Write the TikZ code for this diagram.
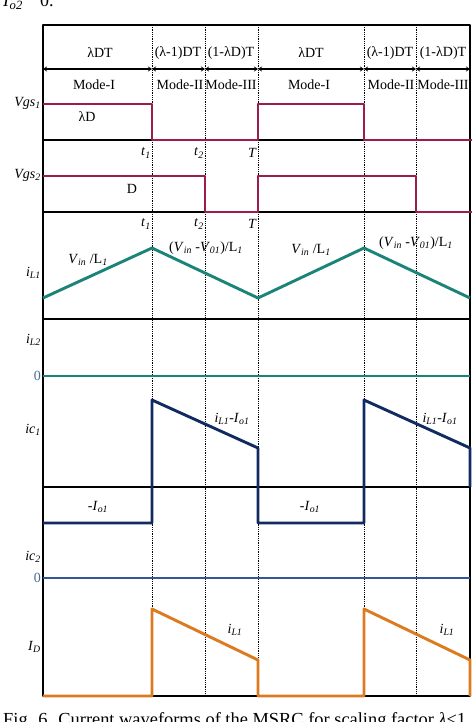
\documentclass[tikz,border=0pt]{standalone}
\usepackage{fontspec}
\setmainfont{Liberation Serif}
\usepackage{tikz}
\usetikzlibrary{arrows.meta}

\definecolor{gatered}{HTML}{9B1D4E}
\definecolor{lteal}{HTML}{1B8479}
\definecolor{cnavy}{HTML}{112B62}
\definecolor{cblue}{HTML}{33569A}
\definecolor{dorange}{HTML}{DB7A1E}
\definecolor{zeroblue}{HTML}{4A6A9A}

\newcommand{\isub}[2]{\textit{#1}\textsubscript{\textit{#2}}}

\begin{document}
\begin{tikzpicture}[x=1pt,y=-1pt,font=\fontsize{14}{16}\selectfont,
                    line join=round]

  \tikzstyle{frame}=[line width=1.6pt]
  \tikzstyle{divider}=[densely dotted, line width=0.8pt]
  \tikzstyle{span}=[{Stealth[length=4pt,width=5pt]}-{Stealth[length=4pt,width=5pt]},
                    line width=1.2pt]
  \tikzstyle{gatewave}=[draw=gatered, line width=2.8pt]
  \tikzstyle{lwave}=[draw=lteal, line width=2.9pt]
  \tikzstyle{cwave}=[draw=cnavy, line width=2.9pt]
  \tikzstyle{zwave}=[draw=cblue, line width=2.7pt]
  \tikzstyle{dwave}=[draw=dorange, line width=2.9pt]
  \tikzstyle{sig}=[anchor=east, inner sep=2pt]
  \tikzstyle{tmark}=[anchor=east, inner sep=1pt]
  \tikzstyle{zero}=[anchor=east, inner sep=2pt, text=zeroblue]

  \useasboundingbox (0,0) rectangle (474,722);

  % cut-off lines of the page around the figure
  \node[anchor=base east, inner sep=0pt, font=\fontsize{18}{20}\selectfont]
        (iotwo) at (23,7) {\isub{I}{o2}};
  \node[anchor=base west, inner sep=0pt, font=\fontsize{18}{20}\selectfont]
        (iozero) at (40,7) {0.};
  \node[anchor=base west, inner sep=0pt, font=\fontsize{18.4}{20}\selectfont]
        (caption) at (3,725)
        {Fig. 6. Current waveforms of the MSRC for scaling factor \textit{λ}<1};

  % time instants on the interval arrows
  \coordinate (s0) at (43,69);
  \coordinate (s1) at (152,69);
  \coordinate (s2) at (205,69);
  \coordinate (s3) at (258,69);
  \coordinate (s4) at (364,69);
  \coordinate (s5) at (416,69);
  \coordinate (s6) at (470,69);

  % dotted time marks
  \foreach \x in {152,205,258,364,416}
    \draw[divider] (\x,25) -- (\x,696);

  % frame and zero lines
  \draw[frame] (43,25) rectangle (470,696);
  \draw[frame] (43,140) -- (470,140);
  \draw[frame] (43,212) -- (470,212);
  \draw[frame] (43,319) -- (470,319);
  \draw[frame] (43,487) -- (470,487);

  \draw[span] (s0) -- (s1);
  \draw[span] (s1) -- (s2);
  \draw[span] (s2) -- (s3);
  \draw[span] (s3) -- (s4);
  \draw[span] (s4) -- (s5);
  \draw[span] (s5) -- (s6);

  % interval and mode headings
  \node (int1) at (100,53) {λDT};
  \node (int2) at (178,53) {(λ-1)DT};
  \node (int3) at (231,53) {(1-λD)T};
  \node (int4) at (311,53) {λDT};
  \node (int5) at (390,53) {(λ-1)DT};
  \node (int6) at (443,53) {(1-λD)T};
  \node (mode1) at (94,85) {Mode-I};
  \node (mode2) at (180,85) {Mode-II};
  \node (mode3) at (231,85) {Mode-III};
  \node (mode4) at (309,85) {Mode-I};
  \node (mode5) at (391,85) {Mode-II};
  \node (mode6) at (443,85) {Mode-III};

  % gate signals
  \draw[gatewave] (43,104) -- (152,104) -- (152,140) -- (258,140) -- (258,104)
                  -- (364,104) -- (364,140) -- (472,140);
  \draw[gatewave] (43,176) -- (205,176) -- (205,212) -- (258,212) -- (258,176)
                  -- (416,176) -- (416,212) -- (472,212);

  \node[sig] (vgs1) at (43,103) {\isub{Vgs}{1}};
  \node[sig] (vgs2) at (43,175) {\isub{Vgs}{2}};
  \node (duty1) at (87,117) {λD};
  \node (duty2) at (132,189) {D};

  \node[tmark] (ta1) at (152,153) {\isub{t}{1}};
  \node[tmark] (ta2) at (205,153) {\isub{t}{2}};
  \node[tmark] (ta3) at (258,153) {\textit{T}};
  \node[tmark] (tb1) at (152,224) {\isub{t}{1}};
  \node[tmark] (tb2) at (205,224) {\isub{t}{2}};
  \node[tmark] (tb3) at (258,224) {\textit{T}};

  % inductor currents
  \draw[lwave] (43,298) -- (152,248) -- (258,298) -- (364,248) -- (470,298);
  \draw[lwave] (43,376) -- (470,376);

  \node[sig] (il1) at (43,273) {\isub{i}{L1}};
  \node[sig] (il2) at (43,340) {\isub{i}{L2}};
  \node[zero] (zero1) at (43,376) {0};
  \node (rise1) at (88,260) {\isub{V}{in} /L\textsubscript{\textit{1}}};
  \node (fall1) at (206,248) {(\isub{V}{in} -\isub{V}{01})/L\textsubscript{\textit{1}}};
  \node (rise2) at (311,250) {\isub{V}{in} /L\textsubscript{\textit{1}}};
  \node (fall2) at (416,243) {(\isub{V}{in} -\isub{V}{01})/L\textsubscript{\textit{1}}};

  % capacitor currents
  \draw[cwave] (43,523) -- (152,523) -- (152,400) -- (258,448) -- (258,523)
               -- (364,523) -- (364,400) -- (470,448) -- (470,487);
  \draw[zwave] (43,578) -- (470,578);

  \node[sig] (ic1) at (43,430) {\isub{ic}{1}};
  \node[sig] (ic2) at (43,557) {\isub{ic}{2}};
  \node[zero] (zero2) at (43,578) {0};
  \node (dis1) at (232,419) {\isub{i}{L1}-\isub{I}{o1}};
  \node (dis2) at (440,419) {\isub{i}{L1}-\isub{I}{o1}};
  \node (load1) at (98,507) {-\isub{I}{o1}};
  \node (load2) at (310,507) {-\isub{I}{o1}};

  % diode current
  \draw[dwave] (43,696) -- (152,696) -- (152,609) -- (258,660) -- (258,696)
               -- (364,696) -- (364,609) -- (470,660) -- (470,696);

  \node[sig] (id) at (43,647) {\isub{I}{D}};
  \node (diode1) at (235,630) {\isub{i}{L1}};
  \node (diode2) at (447,630) {\isub{i}{L1}};

\end{tikzpicture}
\end{document}
